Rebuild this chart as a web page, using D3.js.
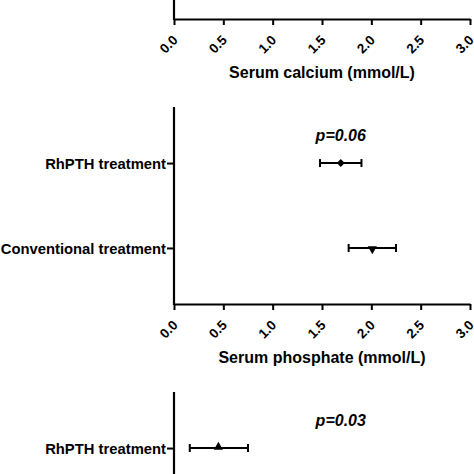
<!DOCTYPE html>
<html><head><meta charset="utf-8">
<script src="https://cdn.jsdelivr.net/npm/d3@7"></script>
<style>html,body{margin:0;padding:0;background:#fff;}svg{display:block;}</style>
</head><body>
<svg id="chart" width="474" height="474"></svg>
<script>
// ---- data ----
const categories = ["RhPTH treatment", "Conventional treatment"];
const xTicks = [0, 0.5, 1.0, 1.5, 2.0, 2.5, 3.0];
const xDomain = [0, 3];
// top panel: only its x axis is visible
const calciumTitle = "Serum calcium (mmol/L)";
// middle panel
const phosphateTitle = "Serum phosphate (mmol/L)";
const phosphateMean = [1.69, 2.01];
const phosphateLow  = [1.48, 1.77];
const phosphateHigh = [1.90, 2.25];
const phosphateMarkers = ["diamond", "down"];
const phosphateP = "p=0.06";
// bottom panel (only the first row is visible)
const bottomMean = [0.45];
const bottomLow  = [0.16];
const bottomHigh = [0.75];
const bottomMarkers = ["up"];
const bottomP = "p=0.03";
const pLabelAt = 1.69;

// ---- layout ----
const W = 474, H = 474;
const svg = d3.select("#chart");
const left = 174, right = 470, panelH = 197, stride = 285, firstTop = -178;
const x = d3.scaleLinear().domain(xDomain).range([left, right]);
const FONT = "Liberation Sans, Arial, sans-serif";

function symbolPath(kind) {
  if (kind === "diamond") return d3.symbol().type(d3.symbolSquare).size(32)();
  return d3.symbol().type(d3.symbolTriangle).size(36)();
}

function panel(idx, title, means, lows, highs, markers, pText) {
  const top = firstTop + idx * stride;
  const bottom = top + panelH;
  const y = d3.scalePoint().domain(categories).range([top, bottom]).padding(0.66);
  const g = svg.append("g");

  // x axis (only when it lies inside the picture)
  if (bottom < H) {
    const xa = g.append("g").attr("transform", `translate(0,${bottom})`)
      .call(d3.axisBottom(x).tickValues(xTicks).tickFormat(d3.format(".1f")).tickSize(6).tickSizeOuter(0));
    xa.select(".domain").attr("stroke", "#000").attr("stroke-width", 2.2);
    xa.selectAll(".tick line").attr("stroke", "#000").attr("stroke-width", 2);
    xa.selectAll(".tick text")
      .attr("font-family", FONT)
      .attr("font-weight", "bold").attr("font-size", 13.5).attr("fill", "#000")
      .attr("text-anchor", "end")
      .attr("x", 0).attr("y", 0).attr("dy", 0)
      .attr("transform", "translate(4,22) rotate(-45)");
    if (title) {
      g.append("text").attr("x", (left + right) / 2).attr("y", bottom + 58.5)
        .attr("text-anchor", "middle")
        .attr("font-family", FONT)
        .attr("font-weight", "bold").attr("font-size", 16).attr("fill", "#000")
        .text(title);
    }
  }

  // y axis (labels that fall outside the picture are not drawn)
  const ya = g.append("g").attr("transform", `translate(${left},0)`)
    .call(d3.axisLeft(y).tickSize(7).tickSizeOuter(0).tickPadding(1));
  ya.select(".domain").attr("stroke", "#000").attr("stroke-width", 2.2)
    .attr("d", `M0,${top}V${bottom + 1}`);
  ya.selectAll(".tick line").attr("stroke", "#000").attr("stroke-width", 2);
  ya.selectAll(".tick text")
    .attr("font-family", FONT)
    .attr("font-weight", "bold").attr("font-size", 14.8).attr("fill", "#000")
    .attr("dy", "0.36em");
  ya.selectAll(".tick").filter(d => y(d) < 0 || y(d) > H).remove();

  if (!means) return;
  const rows = means.map((m, i) => ({cat: categories[i], m, lo: lows[i], hi: highs[i], mk: markers[i]}));
  const eb = g.selectAll(".eb").data(rows).enter().append("g");
  eb.append("line").attr("x1", d => x(d.lo)).attr("x2", d => x(d.hi))
    .attr("y1", d => y(d.cat)).attr("y2", d => y(d.cat))
    .attr("stroke", "#000").attr("stroke-width", 2);
  eb.append("line").attr("x1", d => x(d.lo)).attr("x2", d => x(d.lo))
    .attr("y1", d => y(d.cat) - 4).attr("y2", d => y(d.cat) + 4)
    .attr("stroke", "#000").attr("stroke-width", 2);
  eb.append("line").attr("x1", d => x(d.hi)).attr("x2", d => x(d.hi))
    .attr("y1", d => y(d.cat) - 4).attr("y2", d => y(d.cat) + 4)
    .attr("stroke", "#000").attr("stroke-width", 2);
  eb.append("path").attr("d", d => symbolPath(d.mk))
    .attr("transform", d => {
      const rot = d.mk === "diamond" ? 45 : d.mk === "down" ? 180 : 0;
      const dy = d.mk === "down" ? 1 : d.mk === "up" ? -1 : 0;
      return `translate(${x(d.m)},${y(d.cat) + dy}) rotate(${rot})`;
    })
    .attr("fill", "#000");

  g.append("text").attr("x", x(pLabelAt)).attr("y", y(categories[0]) - 22)
    .attr("text-anchor", "middle")
    .attr("font-family", FONT)
    .attr("font-weight", "bold").attr("font-style", "italic").attr("font-size", 16).attr("fill", "#000")
    .text(pText);
}

panel(0, calciumTitle, null);
panel(1, phosphateTitle, phosphateMean, phosphateLow, phosphateHigh, phosphateMarkers, phosphateP);
panel(2, "", bottomMean, bottomLow, bottomHigh, bottomMarkers, bottomP);
</script>
</body></html>
